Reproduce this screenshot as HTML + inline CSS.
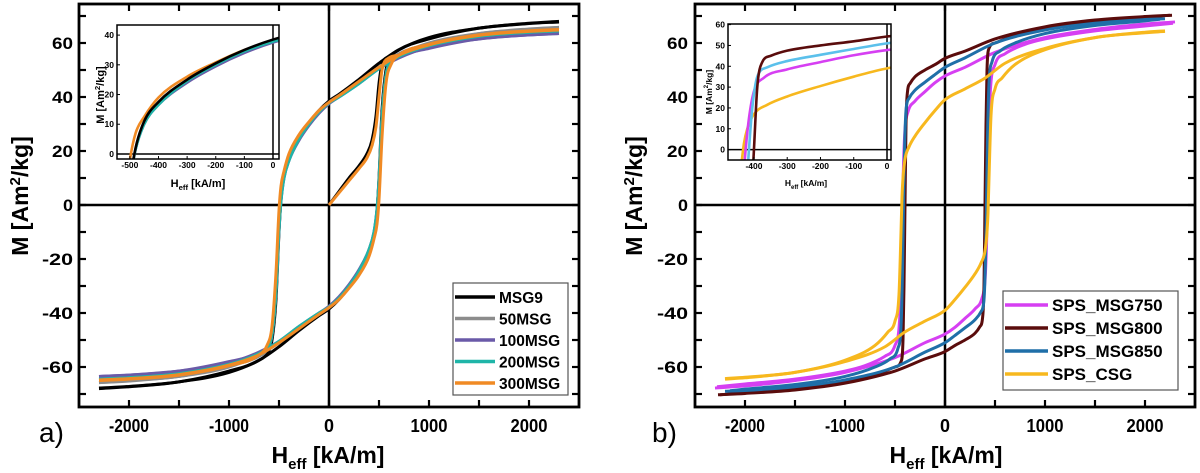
<!DOCTYPE html>
<html><head><meta charset="utf-8">
<style>
html,body{margin:0;padding:0;background:#fff;}
svg{display:block;font-family:"Liberation Sans",Arial,sans-serif;}
</style></head>
<body>
<svg id="fig" width="1200" height="473" viewBox="0 0 1200 473" xmlns="http://www.w3.org/2000/svg">
<defs>
<clipPath id="clipA"><rect x="79" y="4" width="500" height="403"/></clipPath>
<clipPath id="clipB"><rect x="695" y="4" width="500" height="403"/></clipPath>
<clipPath id="clipIA"><rect x="117" y="25" width="162" height="134"/></clipPath>
<clipPath id="clipIB"><rect x="728" y="24" width="163" height="136"/></clipPath>
</defs>
<g id="panelA"></g>
<g id="panelB"></g>
</svg>
<script>
// ---------- Panel a data (descending branches; ascending = point-symmetric) ----------
const hA = [2300,2000,1500,1000,700,500,300,100,0,-100,-200,-300,-400,-450,-480,-500,-530,-570,-620,-700,-1000,-1500,-2000,-2300];
const mMSG9   = [67.8,67.2,65.5,62,57.5,52.5,46.5,41,38.5,35,30.5,25,17.5,11,2,-10,-35,-50,-55,-57.5,-61.5,-65.5,-67.3,-68];
const m50MSG  = [65.8,65.2,63.5,60,55.5,51,45.5,40.5,38,34.5,30,24.5,17,10.5,2,-9,-32,-48,-53.5,-56,-59.5,-63.5,-65,-65.8];
const m100MSG = [63.5,63,61.5,58.5,54.5,50.5,45,40,37.5,34,29.5,24,16.5,10,1.5,-9,-32,-48,-53,-55,-58,-61.5,-63,-63.5];
const m200MSG = [64.5,64,62.5,59,55,50.5,45,40,37.8,34.5,30,24.5,16.5,10,1.5,-9,-32,-48,-53,-55.5,-59,-62.5,-64,-64.5];
const m300MSG = [64.8,64.3,62.8,59.3,55.5,51,45.8,40.5,38,35,30.8,26,19,12.5,7,-2,-25,-45,-52,-55.5,-59.5,-63,-64.5,-65];
const hVirgin = [0,100,200,300,380,430,470,500,530,600,700];
const mVirginMSG9 = [0,5,10,14.5,19,24,33,45,52,55,57.5];
const mVirgin300  = [0,4.5,9,13.5,17.5,22,29,40,50,54.5,55.5];
const namesA = ["MSG9","50MSG","100MSG","200MSG","300MSG"];
const colorsA = ["#000000","#8c8c8c","#6a5aa8","#1fb5a8","#f08a24"];
const ticksX = [-2000,-1000,0,1000,2000];
const ticksY = [-60,-40,-20,0,20,40,60];
const insetTicksXA = [-500,-400,-300,-200,-100,0];
const insetTicksYA = [0,10,20,30,40];

// ---------- Panel b data ----------
const hMSG800 = [2270,2000,1500,1000,500,200,0,-100,-200,-300,-350,-375,-390,-400,-410,-420,-440,-500,-600,-1000,-1500,-2000,-2250];
const mMSG800 = [70.3,69.8,68.5,66,61.5,57,54.3,52,50,47.5,45,42,30,0,-30,-50,-58,-60,-61.5,-65.5,-68,-69.5,-70.3];
const hMSG850 = [2200,2000,1500,1000,500,200,0,-100,-200,-300,-360,-390,-405,-415,-425,-440,-470,-550,-700,-1000,-1500,-2000,-2150];
const mMSG850 = [69,68.7,67.3,64.8,60,54.5,51,48.3,45.5,42.5,39.5,35,20,0,-25,-45,-53,-57,-60,-63.5,-66.5,-68.2,-68.8];
const hMSG750 = [2300,2000,1500,1000,500,200,0,-100,-200,-300,-370,-400,-415,-425,-435,-450,-500,-600,-800,-1000,-1500,-2000,-2280];
const mMSG750 = [67.8,67,65,62,56.5,51,47.8,45.3,42,38.5,34.5,28,15,0,-20,-40,-52,-56,-59.5,-61.5,-64.5,-66.3,-67.3];
const hCSG = [2200,2000,1500,1000,600,400,200,0,-100,-200,-300,-360,-400,-420,-430,-440,-460,-500,-570,-700,-1000,-1500,-2000,-2200];
const mCSG = [64.5,64,62,58,52.5,47,43,39,35,30.5,25.5,21.5,17,10,3,-10,-33,-43,-47,-52,-57.5,-62,-63.8,-64.3];
const namesB = ["SPS_MSG750","SPS_MSG800","SPS_MSG850","SPS_CSG"];
const colorsB = ["#d63ff2","#5a0c0c","#1f6fa8","#f7b81e"];
const insetColorsB = ["#d63ff2","#5a0c0c","#5bc0eb","#f7b81e"];
const insetTicksXB = [-400,-300,-200,-100,0];
const insetTicksYB = [0,10,20,30,40,50,60];

const NS = "http://www.w3.org/2000/svg";
function el(tag, attrs, parent){
  const e = document.createElementNS(NS, tag);
  for (const k in attrs) e.setAttribute(k, attrs[k]);
  parent.appendChild(e);
  return e;
}
function scale(d0,d1,r0,r1){ return v => r0 + (v-d0)/(d1-d0)*(r1-r0); }

function monoPath(pts){
  pts = pts.slice().sort((a,b)=>a[0]-b[0]);
  const n = pts.length;
  if (n < 2) return "";
  const dx=[], dy=[], s=[];
  for (let i=0;i<n-1;i++){ dx.push(pts[i+1][0]-pts[i][0]); dy.push(pts[i+1][1]-pts[i][1]); s.push(dy[i]/(dx[i]||1e-6)); }
  const m=[s[0]];
  for (let i=1;i<n-1;i++){ m.push(s[i-1]*s[i]<=0 ? 0 : (s[i-1]+s[i])/2); }
  m.push(s[n-2]);
  for (let i=0;i<n-1;i++){
    if (s[i]===0){ m[i]=0; m[i+1]=0; continue; }
    const a=m[i]/s[i], b=m[i+1]/s[i], h=a*a+b*b;
    if (h>9){ const t=3/Math.sqrt(h); m[i]=t*a*s[i]; m[i+1]=t*b*s[i]; }
  }
  let d = "M"+pts[0][0].toFixed(2)+","+pts[0][1].toFixed(2);
  for (let i=0;i<n-1;i++){
    const h=dx[i];
    d += "C"+(pts[i][0]+h/3).toFixed(2)+","+(pts[i][1]+m[i]*h/3).toFixed(2)+" "+(pts[i+1][0]-h/3).toFixed(2)+","+(pts[i+1][1]-m[i+1]*h/3).toFixed(2)+" "+pts[i+1][0].toFixed(2)+","+pts[i+1][1].toFixed(2);
  }
  return d;
}
function loopPaths(H, M, sx, sy){
  const desc = H.map((h,i)=>[sx(h), sy(M[i])]);
  const asc = H.map((h,i)=>[sx(-h), sy(-M[i])]);
  return [monoPath(desc), monoPath(asc)];
}

function txt(parent, x, y, s, size, opts){
  opts = opts || {};
  const t = el("text", {x:x, y:y, "font-size":size, "font-weight":opts.weight||"bold", "text-anchor":opts.anchor||"middle", fill:"#000"}, parent);
  if (opts.len) { t.setAttribute("textLength", opts.len); t.setAttribute("lengthAdjust","spacingAndGlyphs"); }
  if (opts.rot) t.setAttribute("transform", "rotate(-90 "+x+" "+y+")");
  t.textContent = s;
  return t;
}

function drawAxes(g, L, T, R, B, sx, sy, labelRight){
  // x ticks (major labelled + minor) bottom & top, inward
  for (let v=-2500; v<=2500; v+=500){
    const x = sx(v);
    if (x<=L+1 || x>=R-1) continue;
    const tk = el("line", {x1:x, y1:B, x2:x, y2:B-7, stroke:"#000", "stroke-width":2.2}, g);
    
    
    el("line", {x1:x, y1:T, x2:x, y2:T+7, stroke:"#000", "stroke-width":2.2}, g);
  }
  for (let v=-70; v<=70; v+=10){
    const y = sy(v);
    const tk = el("line", {x1:L, y1:y, x2:L+7, y2:y, stroke:"#000", "stroke-width":2.2}, g);
    
    
    el("line", {x1:R, y1:y, x2:R-7, y2:y, stroke:"#000", "stroke-width":2.2}, g);
  }
  ticksX.forEach(v=>{
    const s = String(v);
    const t = txt(g, sx(v), 432, s, 18, {len: s.length===1 ? 10 : (s.length===4 ? 37 : 40)});
    
    
  });
  ticksY.forEach(v=>{
    const s = String(v);
    const t = txt(g, labelRight, sy(v)+6, s, 17, {anchor:"end", len: s.length===1 ? 10 : (s.length===2 ? 21 : 31)});
    
    
  });
}

function drawPanel(cfg){
  const g = document.getElementById(cfg.id);
  const L=cfg.L, R=cfg.L+500, T=4, B=407;
  const sx = scale(-2500,2500,L,R), sy = scale(-75,75,407.5,2.5);
  // zero lines
  const zx = el("line",{x1:sx(0),y1:T,x2:sx(0),y2:B,stroke:"#000","stroke-width":2.5},g);
  
  
  const zy = el("line",{x1:L,y1:sy(0),x2:R,y2:sy(0),stroke:"#000","stroke-width":2.5},g);
  
  
  // curves
  const cg = el("g",{"clip-path":"url(#"+cfg.clip+")"},g);
  
  
  cfg.series.forEach(s=>{
    const ps = loopPaths(s.H, s.M, sx, sy);
    ps.forEach(d=>{
      const p = el("path",{d:d, fill:"none", stroke:s.color, "stroke-width":3, "stroke-linejoin":"round"}, cg);
      
      
    });
    if (s.vH){
      const p = el("path",{d:monoPath(s.vH.map((h,i)=>[sx(h),sy(s.vM[i])])), fill:"none", stroke:s.color, "stroke-width":3}, cg);
      
      
    }
  });
  // frame
  const fr = el("rect",{x:L,y:T,width:500,height:B-T,fill:"none",stroke:"#000","stroke-width":2.8},g);
  
  
  drawAxes(g, L, T, R, B, sx, sy, cfg.labelRight);
  // titles
  const yt = txt(g, cfg.yTitleX, 196, "", 23, {rot:true});
  
  
  yt.innerHTML = 'M [Am<tspan dy="-8" font-size="15">2</tspan><tspan dy="8">/kg]</tspan>';
  const xt = txt(g, cfg.xTitleX, 463, "", 23);
  
  
  xt.innerHTML = 'H<tspan dy="6" font-size="15">eff</tspan><tspan dy="-6"> [kA/m]</tspan>';
  const pl = txt(g, cfg.panelLabelX, 442, cfg.panelLabel, 28, {weight:"normal", anchor:"start"});
  
  
  // legend
  const lg = el("g",{},g);
  
  
  const lb = cfg.legend;
  el("rect",{x:lb.x,y:lb.y,width:lb.w,height:lb.h,fill:"#fff",stroke:"#555","stroke-width":1.2},lg);
  cfg.series.forEach((s,i)=>{
    const y = lb.y0 + i*lb.dy;
    const e = el("g",{},lg);
    
    
    el("line",{x1:lb.x+2,y1:y,x2:lb.x+lb.lineW,y2:y,stroke:s.color,"stroke-width":3.5},e);
    txt(e, lb.x+lb.lineW+4, y+6, s.name, lb.fs, {anchor:"start"});
  });
  // inset
  const ins = cfg.inset;
  const ig = el("g",{},g);
  
  
  el("rect",{x:ins.L,y:ins.T,width:ins.R-ins.L,height:ins.B-ins.T,fill:"#fff"},ig);
  const isx = scale(ins.x0,ins.x1,ins.L,ins.R), isy = scale(ins.y0,ins.y1,ins.B,ins.T);
  el("line",{x1:isx(0),y1:ins.T,x2:isx(0),y2:ins.B,stroke:"#000","stroke-width":1.5},ig);
  el("line",{x1:ins.L,y1:isy(0),x2:ins.R,y2:isy(0),stroke:"#000","stroke-width":1.5},ig);
  const icg = el("g",{"clip-path":"url(#"+ins.clip+")"},ig);
  const order = ins.order;
  order.forEach(k=>{
    const s = cfg.series[k];
    const pts = s.H.map((h,i)=>[isx(h),isy(s.M[i])]);
    const p = el("path",{d:monoPath(pts),fill:"none",stroke:ins.colors[k],"stroke-width":2.6},icg);
    
    
  });
  el("rect",{x:ins.L,y:ins.T,width:ins.R-ins.L,height:ins.B-ins.T,fill:"none",stroke:"#000","stroke-width":1.5},ig);
  ins.ticksX.forEach(v=>{
    el("line",{x1:isx(v),y1:ins.B,x2:isx(v),y2:ins.B-3,stroke:"#000","stroke-width":1},ig);
    const t = txt(ig, isx(v), ins.B+9, String(v), 8.5);
    
    
  });
  ins.ticksY.forEach(v=>{
    el("line",{x1:ins.L,y1:isy(v),x2:ins.L+3,y2:isy(v),stroke:"#000","stroke-width":1},ig);
    const t = txt(ig, ins.L-3, isy(v)+3, String(v), 8.5, {anchor:"end"});
    
    
  });
  const iyt = txt(ig, ins.ytx, ins.yty, "", ins.tfs, {rot:true});
  
  
  iyt.innerHTML = 'M [Am<tspan dy="-4" font-size="'+(ins.tfs*0.7)+'">2</tspan><tspan dy="4">/kg]</tspan>';
  const ixt = txt(ig, ins.xtx, ins.xty, "", ins.tfs);
  
  
  ixt.innerHTML = 'H<tspan dy="3" font-size="'+(ins.tfs*0.7)+'">eff</tspan><tspan dy="-3"> [kA/m]</tspan>';
}

const seriesA = [
  {name:namesA[0], color:colorsA[0], H:hA, M:mMSG9, vH:hVirgin, vM:mVirginMSG9},
  {name:namesA[1], color:colorsA[1], H:hA, M:m50MSG},
  {name:namesA[2], color:colorsA[2], H:hA, M:m100MSG},
  {name:namesA[3], color:colorsA[3], H:hA, M:m200MSG},
  {name:namesA[4], color:colorsA[4], H:hA, M:m300MSG, vH:hVirgin, vM:mVirgin300}
];
drawPanel({id:"panelA", L:79, clip:"clipA", labelRight:73, yTitleX:28, xTitleX:328, panelLabelX:39, panelLabel:"a)",
  series:seriesA,
  legend:{x:453,y:283,w:115,h:112,y0:297,dy:21.5,lineW:42,fs:15.5},
  inset:{L:117,R:279,T:25,B:159,x0:-545,x1:21,y0:-1.7,y1:43.4,clip:"clipIA",colors:colorsA,order:[4,1,2,3,0],
    ticksX:insetTicksXA,ticksY:insetTicksYA,ytx:104,yty:95,xtx:198,xty:187,tfs:11}
});
const seriesB = [
  {name:namesB[0], color:colorsB[0], H:hMSG750, M:mMSG750},
  {name:namesB[1], color:colorsB[1], H:hMSG800, M:mMSG800},
  {name:namesB[2], color:colorsB[2], H:hMSG850, M:mMSG850},
  {name:namesB[3], color:colorsB[3], H:hCSG, M:mCSG}
];
drawPanel({id:"panelB", L:695, clip:"clipB", labelRight:688, yTitleX:642, xTitleX:946, panelLabelX:652, panelLabel:"b)",
  series:seriesB,
  legend:{x:1003,y:291,w:175,h:99,y0:305,dy:23,lineW:45,fs:17},
  inset:{L:728,R:891,T:24,B:160,x0:-478,x1:12,y0:-5,y1:60.3,clip:"clipIB",colors:insetColorsB,order:[3,0,2,1],
    ticksX:insetTicksXB,ticksY:insetTicksYB,ytx:712,yty:92,xtx:806,xty:186,tfs:8.5}
});
</script>
</body></html>
